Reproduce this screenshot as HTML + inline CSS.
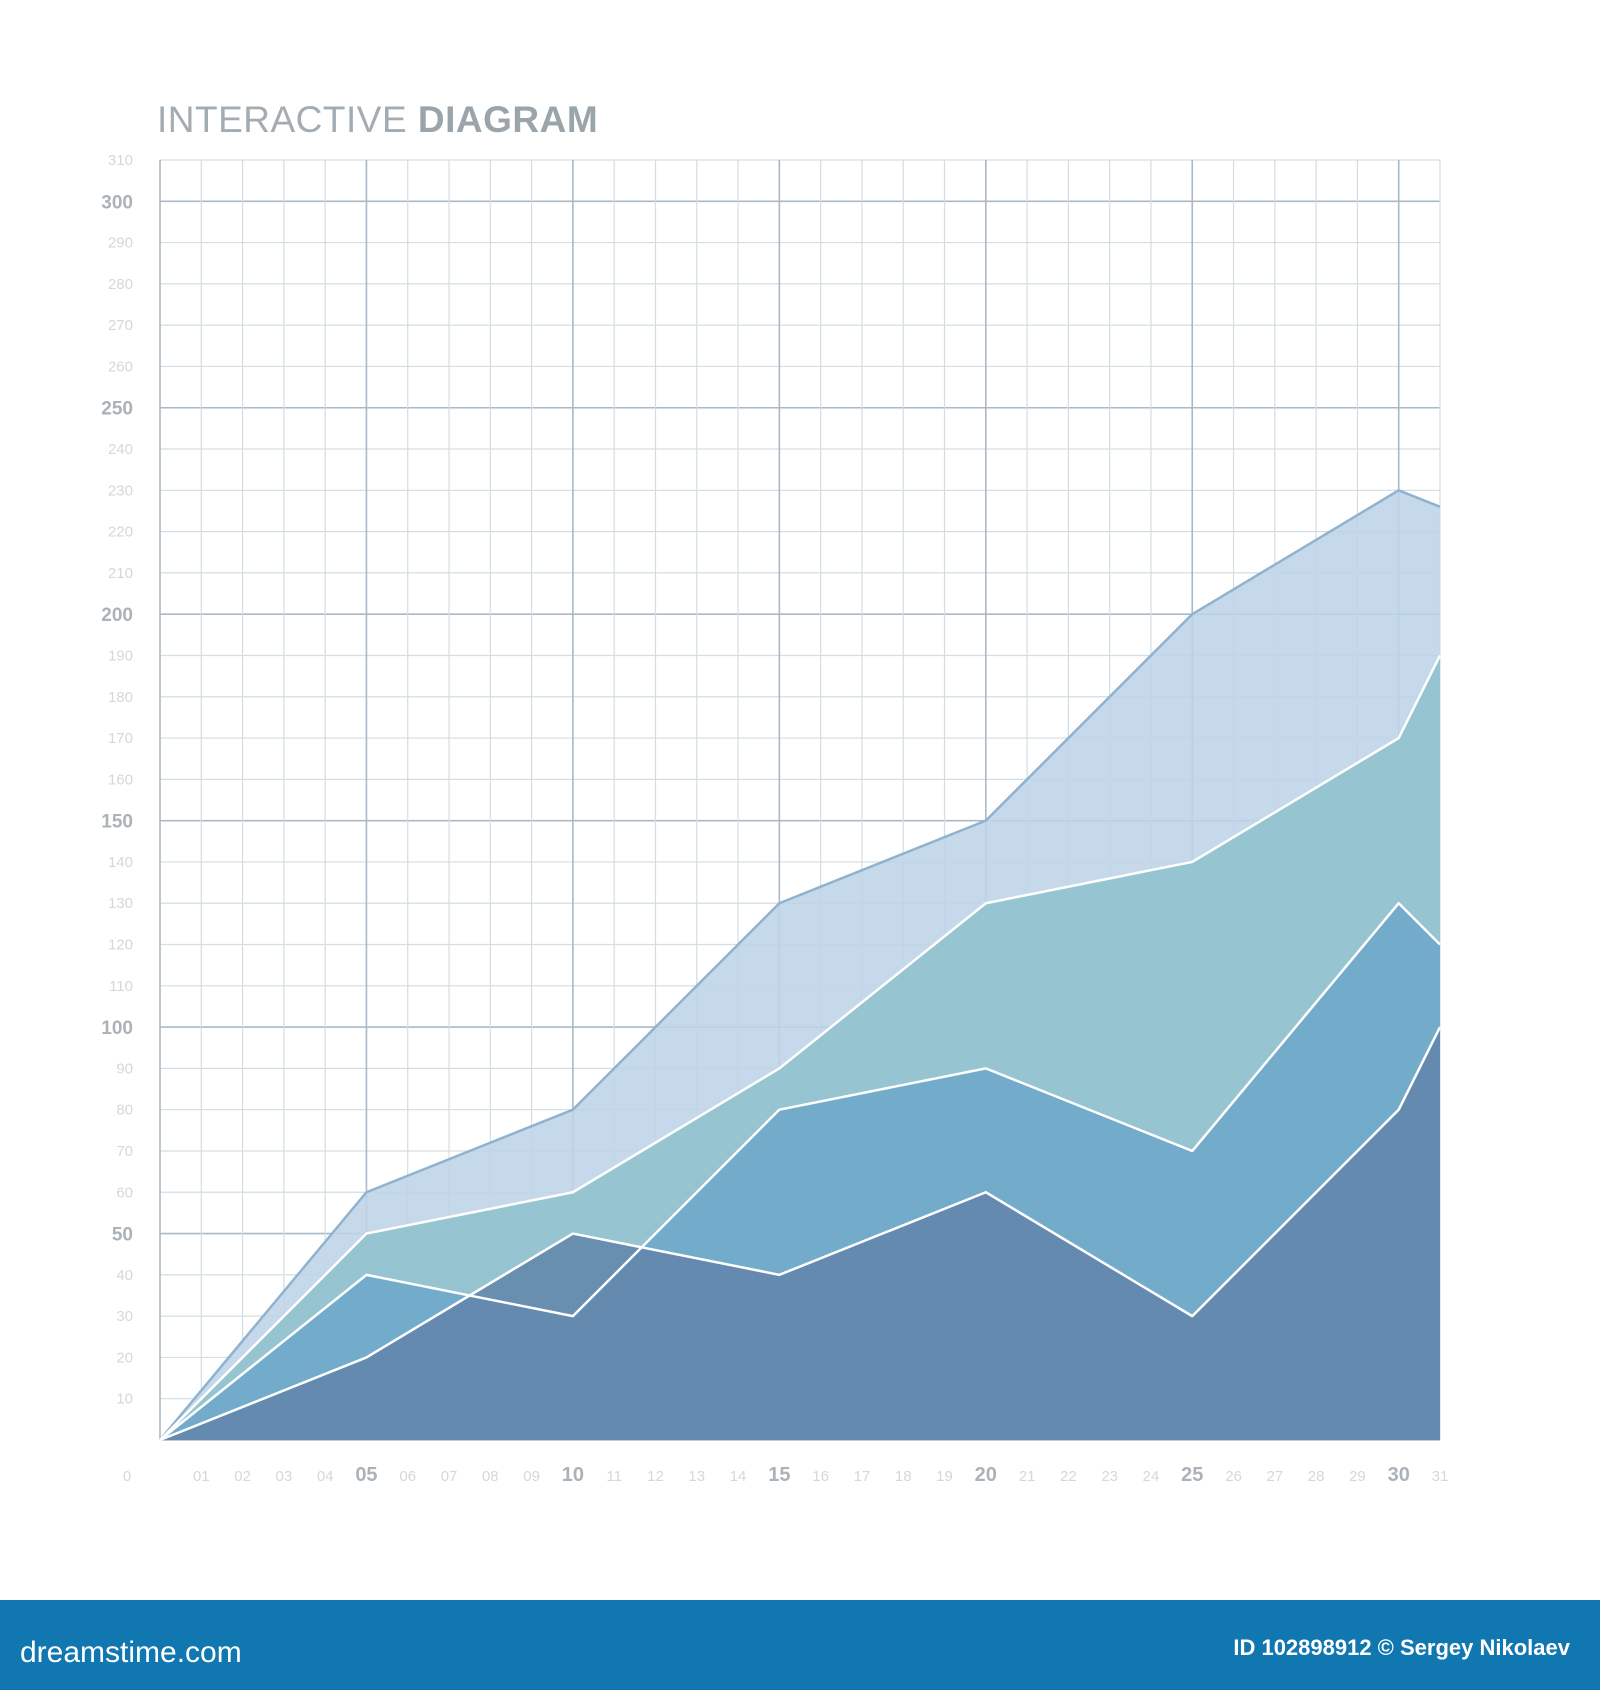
<!DOCTYPE html>
<html><head><meta charset="utf-8"><style>
html,body{margin:0;padding:0;background:#fff;}
svg{display:block;}
</style></head><body>
<svg id="chart" width="1600" height="1690" xmlns="http://www.w3.org/2000/svg" font-family="Liberation Sans, sans-serif">
<text x="157" y="132" font-size="37" fill="#a3acb3" letter-spacing="0.5"><tspan font-weight="300">INTERACTIVE </tspan><tspan font-weight="bold" fill="#9aa4ab">DIAGRAM</tspan></text>
<g id="grid"></g>
<g id="fills"></g>
<g id="lines"></g>
<g id="labels"></g>
<rect x="0" y="1600" width="1600" height="90" fill="#1177b0"/>
<text x="20" y="1662" font-size="30" fill="#fff">dreamstime.com</text>
<text x="1570" y="1655" font-size="22" font-weight="bold" fill="#fff" text-anchor="end">ID 102898912 © Sergey Nikolaev</text>
</svg>
<script>
const days = [0, 5, 10, 15, 20, 25, 30, 31];
const seriesDark = [0, 20, 50, 40, 60, 30, 80, 100];
const seriesMid = [0, 40, 30, 80, 90, 70, 130, 120];
const seriesTeal = [0, 50, 60, 90, 130, 140, 170, 190];
const seriesLight = [0, 60, 80, 130, 150, 200, 230, 226];
const yMax = 310;
const xMax = 31;

const L = 160, R = 1440, T = 160, B = 1440;
const NS = 'http://www.w3.org/2000/svg';
const xs = d => L + (R - L) * d / xMax;
const ys = v => B - (B - T) * v / yMax;
function mk(tag, attrs, parent) {
  const e = document.createElementNS(NS, tag);
  for (const k in attrs) e.setAttribute(k, attrs[k]);
  parent.appendChild(e);
  return e;
}
const fills = document.getElementById('fills');
const grid = document.getElementById('grid');
const lines = document.getElementById('lines');
const labels = document.getElementById('labels');

for (let v = 0; v <= yMax; v += 10) {
  const major = v % 50 === 0;
  const ln = mk('line', {x1: L, x2: R, y1: ys(v), y2: ys(v), stroke: major ? '#a9b9c5' : '#d3dde3', 'stroke-width': major ? 1.6 : 1.2}, grid);
  
  
  if (v > 0) {
    const t = mk('text', {x: 133, y: ys(v) + (major ? 7 : 5), 'text-anchor': 'end', 'font-size': major ? 19 : 15, 'font-weight': major ? 'bold' : 'normal', fill: major ? '#abb2b8' : '#d3d8dc'}, labels);
    t.textContent = v;
    
    
  }
}
for (let d = 0; d <= xMax; d++) {
  const major = d % 5 === 0;
  const ln = mk('line', {x1: xs(d), x2: xs(d), y1: T, y2: B, stroke: major ? '#a9b9c5' : '#d3dde3', 'stroke-width': major ? 1.6 : 1.2}, grid);
  
  
  const t = mk('text', {x: d === 0 ? 127 : xs(d), y: 1481, 'text-anchor': 'middle', 'font-size': major && d > 0 ? 20 : 15, 'font-weight': major && d > 0 ? 'bold' : 'normal', fill: major && d > 0 ? '#abb2b8' : '#d3d8dc'}, labels);
  t.textContent = d === 0 ? '0' : String(d).padStart(2, '0');
  
  
}

const series = [
  {vals: seriesLight, fill: '#bdd4e7', op: 0.88, stroke: '#8fb3cf', name: 'area-series-4'},
  {vals: seriesTeal, fill: '#8fc0cc', op: 0.88, stroke: '#ffffff', name: 'area-series-3'},
  {vals: seriesMid, fill: '#6ea7c8', op: 0.88, stroke: '#ffffff', name: 'area-series-2'},
  {vals: seriesDark, fill: '#6286ab', op: 0.88, stroke: '#ffffff', name: 'area-series-1'}
];
series.forEach(s => {
  const pts = days.map((d, i) => xs(d) + ',' + ys(s.vals[i])).join(' ');
  const poly = mk('polygon', {points: pts + ' ' + xs(xMax) + ',' + B + ' ' + xs(0) + ',' + B, fill: s.fill, 'fill-opacity': s.op}, fills);
  
  
  const pl = mk('polyline', {points: pts, fill: 'none', stroke: s.stroke, 'stroke-width': 2.5, 'stroke-linejoin': 'round'}, lines);
  
  
});
</script>
</body></html>
